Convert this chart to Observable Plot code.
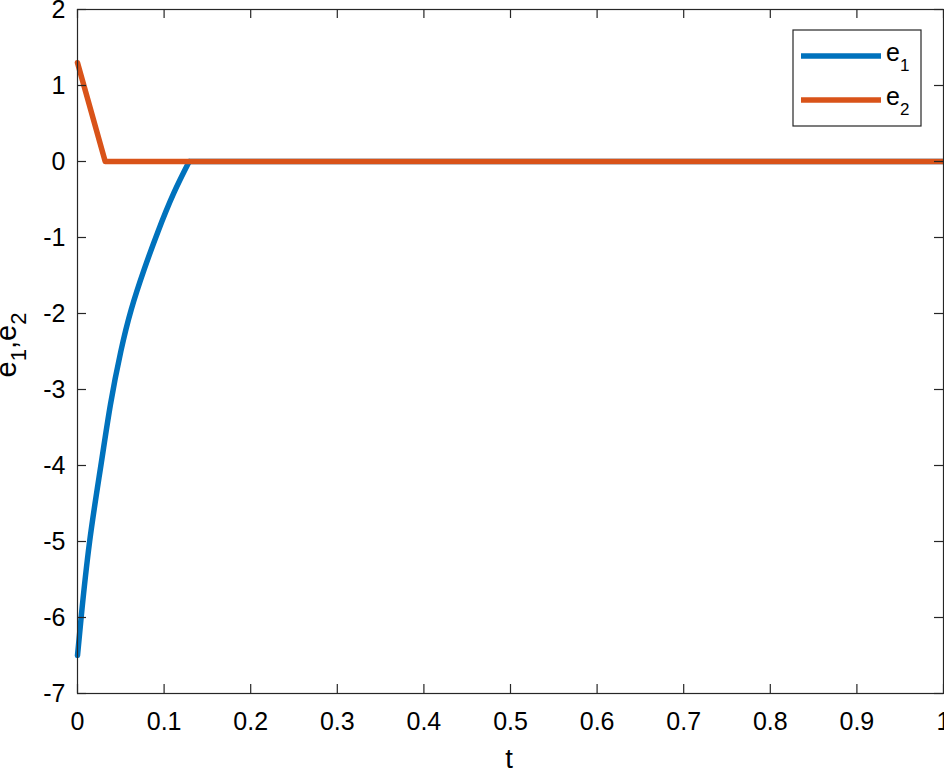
<!DOCTYPE html>
<html>
<head>
<meta charset="utf-8">
<script src="https://cdn.jsdelivr.net/npm/d3@7"></script>
<script src="https://cdn.jsdelivr.net/npm/@observablehq/plot@0.6"></script>
<style>
  html, body { margin: 0; padding: 0; background: #fff; }
  #chart svg { display: block; }
</style>
</head>
<body>
<div id="chart"></div>
<script>
// ---- data ----
// e1: transient part then flat at zero
const e1T = [0, 0.0042, 0.014, 0.027, 0.038, 0.05, 0.062, 0.077, 0.093, 0.111, 0.129];
const e1V = [-6.5, -6.0, -5.0, -4.0, -3.2, -2.5, -1.95, -1.42, -0.92, -0.42, 0];
const e1FlatT = [0.129, 1];
const e1FlatV = [0, 0];
const e2T = [0, 0.032, 1];
const e2V = [1.3, 0, 0];
const xTicks = [0, 0.1, 0.2, 0.3, 0.4, 0.5, 0.6, 0.7, 0.8, 0.9, 1];
const yTicks = [-7, -6, -5, -4, -3, -2, -1, 0, 1, 2];
const seriesNames = ["e1", "e2"];
const seriesColors = ["#0072BD", "#D95319"];

const e1 = e1T.map((t, i) => ({t, v: e1V[i]}));
const e1Flat = e1FlatT.map((t, i) => ({t, v: e1FlatV[i]}));
const e2 = e2T.map((t, i) => ({t, v: e2V[i]}));

const W = 944, H = 770;
const mL = 77, mR = 1, mT = 9, mB = 77;
const innerH = H - mT - mB, innerW = W - mL - mR;
const axisColor = "#262626";
const font = "'Liberation Sans', Arial, Helvetica, sans-serif";
const tickLen = 9;
const lw = 5.5;

const plot = Plot.plot({
  width: W,
  height: H,
  marginLeft: mL,
  marginRight: mR,
  marginTop: mT,
  marginBottom: mB,
  style: {fontFamily: font, fontSize: "25px", color: "#000", background: "#fff"},
  x: {domain: [0, 1], label: null},
  y: {domain: [-7, 2], label: null},
  marks: [
    Plot.line(e1, {x: "t", y: "v", stroke: seriesColors[0], strokeWidth: lw, curve: "natural"}),
    Plot.line(e1Flat, {x: "t", y: "v", stroke: seriesColors[0], strokeWidth: lw}),
    Plot.line(e2, {x: "t", y: "v", stroke: seriesColors[1], strokeWidth: lw}),
    // inward ticks on all four sides
    Plot.tickX(xTicks, {x: d => d, stroke: axisColor, strokeWidth: 1.2, insetTop: innerH - tickLen}),
    Plot.tickX(xTicks, {x: d => d, stroke: axisColor, strokeWidth: 1.2, insetBottom: innerH - tickLen}),
    Plot.tickY(yTicks, {y: d => d, stroke: axisColor, strokeWidth: 1.2, insetRight: innerW - tickLen}),
    Plot.tickY(yTicks, {y: d => d, stroke: axisColor, strokeWidth: 1.2, insetLeft: innerW - tickLen}),
    Plot.axisX(xTicks, {tickSize: 0, tickPadding: 19, fill: "#000", tickFormat: d => String(d), fontSize: 25}),
    Plot.axisY(yTicks, {tickSize: 0, tickPadding: 12, fill: "#000", tickFormat: d => String(d), fontSize: 25}),
    Plot.frame({stroke: axisColor, strokeWidth: 1.2})
  ]
});

document.getElementById("chart").appendChild(plot);

// ---- labels and legend (rich text with subscripts) ----
const svg = d3.select(plot);

function subText(sel, parts, subSize, shift) {
  parts.forEach(p => {
    const ts = sel.append("tspan").text(p.text);
    if (p.sub) ts.attr("font-size", subSize).attr("dy", shift);
    else if (p.back) ts.attr("dy", -shift);
  });
}

// x label
svg.append("text")
  .attr("x", 509)
  .attr("y", 768)
  .attr("text-anchor", "middle")
  .attr("font-family", font)
  .attr("font-size", 27.5)
  .attr("fill", "#000")
  .text("t");

// y label
const yl = svg.append("text")
  .attr("transform", `translate(16,345) rotate(-90)`)
  .attr("text-anchor", "middle")
  .attr("font-family", font)
  .attr("font-size", 29)
  .attr("fill", "#000");
subText(yl, [{text: "e"}, {text: "1", sub: true}, {text: ",", back: true}, {text: "e"}, {text: "2", sub: true}], 22, 10);

// legend
const lg = svg.append("g");
lg.append("rect")
  .attr("x", 793).attr("y", 30).attr("width", 128).attr("height", 96)
  .attr("fill", "#fff").attr("stroke", axisColor).attr("stroke-width", 1.2);
const legY = [56, 100];
seriesNames.forEach((name, i) => {
  lg.append("line")
    .attr("x1", 801).attr("x2", 881).attr("y1", legY[i]).attr("y2", legY[i])
    .attr("stroke", seriesColors[i]).attr("stroke-width", lw);
  const t = lg.append("text")
    .attr("x", 886).attr("y", legY[i] + 5)
    .attr("text-anchor", "start")
    .attr("font-family", font).attr("font-size", 25).attr("fill", "#000");
  subText(t, [{text: name[0]}, {text: name.slice(1), sub: true}], 17, 10);
});
</script>
</body>
</html>
